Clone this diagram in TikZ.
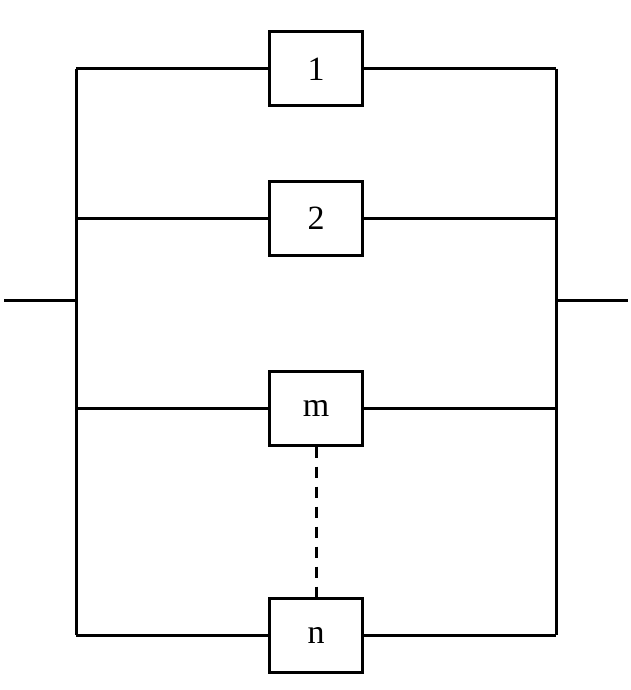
\documentclass[tikz,border=0pt]{standalone}
\usepackage{fontspec}
\setmainfont{Liberation Serif}
\usetikzlibrary{positioning}

\begin{document}
\begin{tikzpicture}[x=1pt, y=-1pt, line width=3pt,
    unit/.style={draw, fill=white, minimum width=93pt, minimum height=74pt,
      inner sep=0pt, font=\fontsize{34}{40}\selectfont}]
  \useasboundingbox (0,0) rectangle (630,690);
  % rails
  \coordinate (ltop) at (76,69);
  \coordinate (lbot) at (76,635);
  \coordinate (rtop) at (556,69);
  \coordinate (rbot) at (556,635);
  \coordinate (lmid) at (76,300);
  \coordinate (rmid) at (556,300);
  \coordinate (in) at (4,300);
  \coordinate (out) at (628,300);
  \draw (ltop) -- (lbot);
  \draw (rtop) -- (rbot);
  \draw (in) -- (lmid);
  \draw (rmid) -- (out);
  % branches
  \foreach \nm/\lbl/\y in {b1/1/69, b2/2/218, bm/m/408, bn/n/635} {
    \coordinate (l\nm) at (76,\y);
    \coordinate (r\nm) at (556,\y);
    \node[unit] (\nm) at (316,\y) {\lbl};
    \draw (l\nm) -- (\nm.west);
    \draw (\nm.east) -- (r\nm);
  }
  % dots between m and n
  \draw[dash pattern=on 11pt off 9pt] (bm.south) -- (bn.north);
\end{tikzpicture}
\end{document}
